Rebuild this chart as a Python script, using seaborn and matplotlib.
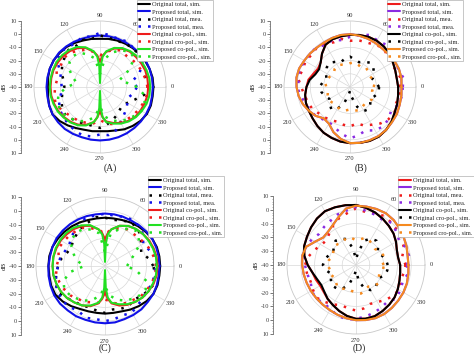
import numpy as np
import pandas as pd
import matplotlib
matplotlib.use('Agg')
import matplotlib.pyplot as plt
from matplotlib.ticker import MultipleLocator, FixedLocator, FuncFormatter
import seaborn as sns

sns.set_theme(style='white')
plt.rcParams['font.family'] = ['Liberation Serif', 'DejaVu Serif']

# ---------------- data (dB) ----------------
ang = np.arange(0, 360, 10)
ang_null = np.array([0, 10, 20, 30, 40, 50, 60, 70, 80, 85, 88, 90, 92, 95,
                     100, 110, 120, 130, 140, 150, 160, 170, 180, 190, 200, 210,
                     220, 230, 240, 250, 260, 265, 268, 270, 272, 275,
                     280, 290, 300, 310, 320, 330, 340, 350])

labels = ['Original total, sim.', 'Proposed total, sim.', 'Original total, mea.',
          'Proposed total, mea.', 'Original co-pol., sim.', 'Original cro-pol., sim.',
          'Proposed co-pol., sim.', 'Proposed cro-pol., sim.']
theta_ticks = np.arange(0, 360, 30)
theta_labels = ['0', '30', '60', '90', '120', '150', '180', '210', '240', '270', '300', '330']

# (A)
a_orig_total = [0.5, 0.5, 0, -0.5, -1, -1.5, -2, -2.5, -3, -3.5, -3, -2.5, -1.5, -0.5, 0, 0.5, 0.5, 0,
                -0.5, 0, 1, 1.5, 0, -2, -4, -5.5, -6, -6.5, -6, -5, -3, -1.5, 0, 1, 1, 0.5]
a_prop_total = [0, 0, 0, 0, -0.5, -1, -1, -1, -1, -1, -1, -1, -0.5, 0, 0.5, 0.5, 0.5, 0.5,
                0.5, 0.5, 1, 1.5, 1.5, 1.5, 1, 0.5, 0.5, 0.5, 0.5, 0.5, 0.5, 0.5, 0.5, 0.5, 0.5, 0]
a_orig_total_mea = [-3, -5, -4, -2, -1, -2, -1.5, -3, -2, -1, -3, -2, -4, -3, -5, -7, -9, -12,
                    -13, -11, -9, -7, -6, -8, -9, -10, -10, -9, -11, -13, -15, -17, -18, -16, -12, -6]
a_prop_total_mea = [-12, -15, -8, -3, -1, -1, 0, -1, 0, 1, -1, 0, -2, -1, 0, -3, -8, -10,
                    -11, -10, -7, -5, -4, -3, -2, -1, -2, -4, -3, -5, -9, -12, -14, -16, -17, -14]
a_orig_co = [-3.5, -3.5, -3.5, -4, -4.5, -5, -6.5, -9, -13, -16, -19, -21, -19, -16,
             -13, -8.5, -6, -4.5, -3.5, -3, -2.5, -2.5, -2.5, -2.5, -3, -3.5,
             -4.5, -5.5, -7, -9.5, -13, -17, -20, -23, -20, -17,
             -13.5, -11, -8.5, -6.5, -5, -4.5, -4, -3.5]
a_orig_cro = [-4, -5, -6, -7, -8, -9, -8, -10, -13, -16, -13, -10, -8, -6, -5, -6, -5, -7,
              -6, -5, -4, -6, -8, -9, -10, -11, -12, -15, -12, -10, -9, -8, -7, -6, -5, -4]
a_prop_co = [-2, -2, -2.5, -3, -3.5, -4.5, -6, -8.5, -12.5, -17, -24, -37, -24, -17,
             -12.5, -8, -5, -3.5, -2.5, -2, -2, -2, -2, -2, -2.5, -3,
             -4, -5, -6.5, -9, -13, -17, -24, -37, -24, -17,
             -13, -10.5, -8, -6, -4.5, -3.5, -2.5, -2]
a_prop_cro = [-12, -20, -24, -15, -6, -5, -8, -12, -18, -30, -18, -14, -10, -9, -10, -13, -18, -22,
              -15, -8, -6, -5, -6, -8, -10, -13, -17, -25, -17, -13, -10, -8, -6, -4, -4, -6]

# (B)
b_orig_total = [-3.5, -4, -3.5, -2.5, -1, 0, 0.5, 0.5, 0, -0.5, -1, -1.5, -3, -7, -11, -12, -10.5, -8,
                -7, -5.5, -4.5, -4, -3, -1.5, 0, 1, 2, 2.5, 3, 3.5, 3.5, 2.5, 1, -1, -2, -3]
b_prop_total = [-1, -0.5, -0.5, -1, -1.5, -2, -1.5, -1, -0.5, 0, 0, -0.5, -1, -1, -0.5, 0, 1, 1.2,
                0.5, -0.5, -2, -4, -6, -9, -8, -3.5, 0, 2.5, 3, 3, 3, 2.5, 1.5, 1, 0, -0.5]
b_orig_total_mea = [-2, -1, -3, -4, -3, -1, -3, -4, -4, -5, -3, -4, -2, -1, -2, -1, -2, 0,
                    -3, -5, -6, -7, -9, -10, -11, -12, -11, -10, -12, -9, -7, -4, -2, -1, -3, -2]
b_prop_total_mea = [0, 1, -1, 0, 1, 2, 1, 2, 0, -2, -4, -2, -3, -1, 0, -1, 1, -1,
                    0, -2, -4, -5, -6, -8, -9, -7, -4, -1, -3, -5, -2, -1, -2, -4, -1, 0]
b_orig_co = [-3.5, -4, -3.5, -2.5, -1, 0, 0.5, 0.5, 0, -0.5, -1, -1.5, -3, -7, -11, -13, -12, -9,
             -7, -5.5, -4.5, -4, -3, -1.5, 0, 1, 2, 2.5, 3, 3.5, 3.5, 2.5, 1, -1, -2, -3]
b_orig_cro = [-18, -20, -22, -19, -17, -16, -18, -20, -19, -17, -18, -20, -18, -16, -17, -19, -21, -19,
              -17, -18, -20, -22, -20, -18, -21, -27, -34, -37, -32, -24, -19, -18, -20, -22, -20, -18]
b_prop_co = [-1, -0.5, -0.5, -1, -1.5, -2, -1.5, -1, -0.5, 0, 0, -0.5, -1, -1, -0.5, 0, 1, 1.2,
             0.5, -0.5, -2, -4, -6, -9, -8, -3.5, 0, 2.5, 3, 3, 3, 2.5, 1.5, 1, 0, -0.5]
b_prop_cro = [-22, -21, -22, -23, -22, -21, -23, -22, -21, -22, -23, -22, -21, -22, -24, -23, -22, -21,
              -22, -23, -22, -21, -22, -23, -22, -21, -22, -23, -22, -21, -22, -23, -22, -21, -22, -23]

# (C)
c_orig_total = [0, 0, 0, -0.5, -1.5, -2.5, -3.5, -4.5, -5, -5, -5, -4.5, -3.5, -2.5, -1.5, -0.5, 0.5, 1,
                1, 1, 1.5, 1.5, 0, -2, -4, -5, -5.5, -5.5, -5.5, -5, -3.5, -2, -0.5, 0.5, 0.5, 0]
c_prop_total = [-0.5, -0.5, -0.5, -0.5, -1, -1.5, -2, -2, -2, -2, -2, -1.5, -1, -0.5, 0, 0.5, 0.5, 0.5,
                1, 1.5, 2, 2.5, 2.5, 2, 2, 1.5, 1.5, 1.5, 1.5, 1, 1, 1, 0.5, 0.5, 0, -0.5]
c_orig_total_mea = [-5, -8, -12, -10, -6, -4, -3, -5, -6, -5, -4, -6, -7, -9, -10, -12, -11, -8,
                    -6, -4, -2, -1, -4, -6, -7, -8, -7, -6, -8, -7, -6, -8, -6, -4, -2, -3]
c_prop_total_mea = [-3, -2, -6, -8, -4, -2, -1, -2, -3, -2, -3, -2, -4, -6, -8, -10, -9, -7,
                    -6, -4, -2, -1, 0, -1, -2, 0, -1, 0, -1, -2, -1, -3, -4, -5, -3, -4]
c_orig_co = [-2, -2, -2.5, -3, -4, -5, -6.5, -9, -13, -16, -19, -22, -19, -16,
             -13, -9, -6.5, -5, -4, -3, -2.5, -2, -2, -2, -2.5, -3,
             -4, -5.5, -7, -9, -12.5, -16, -19, -22, -19, -16,
             -12.5, -9.5, -7.5, -6, -4.5, -3.5, -2.5, -2]
c_orig_cro = [-3, -4, -5, -7, -8, -9, -9, -11, -13, -17, -13, -11, -8, -7, -6, -5, -4, -6,
              -5, -4, -5, -6, -7, -9, -10, -12, -13, -16, -13, -11, -9, -8, -6, -5, -4, -3]
c_prop_co = [-2.5, -2.5, -3, -3.5, -4, -5, -6.5, -9, -13, -17, -24, -37, -24, -17,
             -13, -8.5, -6, -4, -3, -2.5, -2, -2, -2, -2, -2.5, -3,
             -4, -5.5, -7, -9.5, -13, -17, -24, -37, -24, -17,
             -13, -10.5, -8, -6, -4.5, -3.5, -3, -2.5]
c_prop_cro = [-24, -22, -18, -12, -8, -6, -9, -12, -16, -30, -16, -12, -9, -8, -9, -12, -16, -20,
              -25, -14, -8, -6, -7, -9, -11, -14, -18, -25, -18, -14, -11, -9, -7, -6, -8, -16]

# (D)
d_orig_total = [-8, -9, -8.5, -6.5, -4.5, -3, -1.3, 0.5, 2, 3.5, 4, 4.5, 5, 4, 2.5, 1, 0, -2,
                -5, -8, -9, -10, -9.5, -8, -6.5, -4.5, -2.5, -1, -0.5, -0.5, -1.5, -2.5, -3.5, -5, -6.5, -7.5]
d_prop_total = [-2, -2, -1, 0, 1.2, 2.5, 3.3, 3.2, 3, 3, 1.5, -3, -6.5, -8.5, -9, -6, -1.5, -0.5,
                -1, -1.5, -2, -2.3, -2.5, -2.5, -2.2, -1.5, -0.8, 0, 0.5, 1, 1, 0.5, 0, -0.3, -0.8, -1.5]
d_orig_total_mea = [-4, -6, -3, -2, -1, 0, 1, 0, -1, 1, -2, -4, -7, -10, -12, -11, -8, -5,
                    -3, -4, -5, -4, -3, -5, -7, -9, -8, -7, -8, -10, -9, -7, -5, -4, -6, -5]
d_prop_total_mea = [-3, -1, -2, -4, -2, 0, -2, -1, 0, 2, 0, -1, -3, -4, -5, -3, -1, -2,
                    -3, -4, -5, -3, -2, -4, -3, -1, 0, -1, -2, -3, -4, -5, -2, -3, -4, -2]
d_orig_co = [-8, -9, -8.5, -6.5, -4.5, -3, -1.3, 0.5, 2, 3.5, 4, 4.5, 5, 4, 2.5, 1, 0, -2,
             -5, -8, -10, -11, -10, -8, -6.5, -4.5, -2.5, -1, -0.5, -0.5, -1.5, -2.5, -3.5, -5, -6.5, -7.5]
d_orig_cro = [-17, -18, -20, -22, -19, -17, -18, -21, -30, -36, -28, -20, -18, -17, -19, -21, -19, -17,
              -16, -18, -21, -19, -17, -18, -20, -25, -32, -36, -28, -22, -19, -18, -20, -21, -18, -17]
d_prop_co = [-2, -2, -1, 0, 1.2, 2.5, 3.3, 3.2, 3, 3, 1.5, -3, -6.5, -8.5, -9, -6, -1.5, -0.5,
             -1, -1.5, -2, -2.3, -2.5, -2.5, -2.2, -1.5, -0.8, 0, 0.5, 1, 1, 0.5, 0, -0.3, -0.8, -1.5]
d_prop_cro = [-20, -21, -19, -20, -22, -21, -20, -19, -21, -22, -20, -19, -21, -20, -19, -21, -22, -20,
              -19, -21, -20, -22, -21, -19, -20, -22, -21, -20, -19, -21, -22, -20, -19, -21, -22, -20]

# ---------------- styling ----------------
colors_ac = ['#000000', '#1010e8', '#000000', '#1010e8', '#ee1c1c', '#ee1c1c', '#22e022', '#22e022']
colors_bd = ['#ee1c1c', '#8a2be2', '#ee1c1c', '#8a2be2', '#000000', '#000000', '#f58a1f', '#f58a1f']
dotted = [False, False, True, True, False, True, False, True]

W, H = 474, 355
fig = plt.figure(figsize=(W / 100, H / 100), dpi=100)


def draw_panel(series, angles, colors, cx, cy, R, spine_x, leg_right, leg_top, tag, tag_xy):
    ax = fig.add_axes([(cx - R) / W, (H - cy - R) / H, 2 * R / W, 2 * R / H], projection='polar')
    for vals, th, col, dot in zip(series, angles, colors, dotted):
        t = np.deg2rad(np.append(th, 360))
        r = np.append(vals, vals[0])
        df = pd.DataFrame({'t': t, 'r': r})
        if dot:
            sns.lineplot(data=df, x='t', y='r', ax=ax, color=col, linewidth=1.8,
                         linestyle=(0, (1, 2.8)), sort=False, estimator=None)
        else:
            sns.lineplot(data=df, x='t', y='r', ax=ax, color=col, linewidth=1.5,
                         sort=False, estimator=None)
    ax.set_ylim(-40, 10)
    ax.set_yticks([-30, -20, -10, 0])
    ax.set_yticklabels([])
    ax.set_xticks(np.deg2rad(theta_ticks))
    ax.set_xticklabels([])
    for a, lab in zip(theta_ticks, theta_labels):
        ax.text(np.deg2rad(a), 14.5, lab, ha='center', va='center', fontsize=4.6,
                color='#303030', clip_on=False)
    ax.set_xlabel('')
    ax.set_ylabel('')
    ax.grid(True, color='#d8d8d8', linewidth=0.5)
    ax.spines['polar'].set_color('#c8c8c8')
    ax.spines['polar'].set_linewidth(0.6)

    # linear dB scale on the left
    axd = fig.add_axes([spine_x / W, (H - cy - R) / H, 0.001, 2 * R / H])
    axd.set_ylim(-50, 50)
    axd.yaxis.set_major_locator(FixedLocator(np.arange(-50, 51, 10)))
    axd.yaxis.set_major_formatter(FuncFormatter(lambda v, p: '%d' % (abs(v) - 40)))
    axd.yaxis.set_minor_locator(MultipleLocator(2))
    axd.set_xticks([])
    for s in ['top', 'right', 'bottom']:
        axd.spines[s].set_visible(False)
    axd.spines['left'].set_color('#707070')
    axd.spines['left'].set_linewidth(0.6)
    axd.tick_params(axis='y', which='major', labelsize=4.6, length=2, width=0.5,
                    direction='out', pad=1, colors='#404040', left=True)
    axd.tick_params(axis='y', which='minor', length=1, width=0.4, direction='out',
                    colors='#707070', left=True)
    axd.set_facecolor('none')
    axd.set_ylabel('dB', fontsize=5, labelpad=1)

    leg = ax.legend(ax.get_lines(), labels, loc='upper right',
                    bbox_to_anchor=(leg_right / W, 1 - leg_top / H), bbox_transform=fig.transFigure,
                    fontsize=4.6, frameon=True, fancybox=False, edgecolor='#b0b0b0', framealpha=1,
                    borderpad=0.25, labelspacing=0.32, handlelength=1.9, handletextpad=0.25,
                    borderaxespad=0)
    leg.get_frame().set_linewidth(0.5)
    leg.set_zorder(10)
    fig.text(tag_xy[0] / W, 1 - tag_xy[1] / H, tag, ha='center', va='center', fontsize=7)


ang_ac = [ang, ang, ang, ang, ang_null, ang, ang_null, ang]
ang_bd = [ang] * 8

draw_panel([a_orig_total, a_prop_total, a_orig_total_mea, a_prop_total_mea,
            a_orig_co, a_orig_cro, a_prop_co, a_prop_cro],
           ang_ac, colors_ac, 100, 87, 66, 21, 213, 0, '(A)', (110, 168))
draw_panel([b_orig_total, b_prop_total, b_orig_total_mea, b_prop_total_mea,
            b_orig_co, b_orig_cro, b_prop_co, b_prop_cro],
           ang_bd, colors_bd, 350, 87, 66, 270, 463, 0, '(B)', (361, 168))
draw_panel([c_orig_total, c_prop_total, c_orig_total_mea, c_prop_total_mea,
            c_orig_co, c_orig_cro, c_prop_co, c_prop_cro],
           ang_ac, colors_ac, 105, 266, 69, 21, 224, 176, '(C)', (105, 348))
draw_panel([d_orig_total, d_prop_total, d_orig_total_mea, d_prop_total_mea,
            d_orig_co, d_orig_cro, d_prop_co, d_prop_cro],
           ang_bd, colors_bd, 356, 265, 69, 273, 474, 176, '(D)', (359, 348))

fig.savefig('out.png', dpi=100)
